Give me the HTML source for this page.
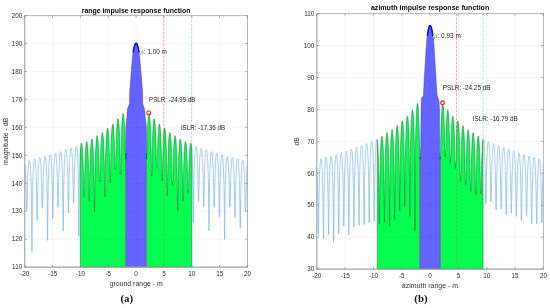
<!DOCTYPE html>
<html lang="en">
<head>
<meta charset="utf-8">
<title>Impulse response functions</title>
<style>
html,body{margin:0;padding:0;background:#fff;}
body{width:550px;height:308px;overflow:hidden;font-family:"Liberation Sans", sans-serif;}
svg{display:block;}
</style>
</head>
<body>
<svg width="550" height="308" viewBox="0 0 550 308">
<rect width="550" height="308" fill="#fff"/>
<g>
<path d="M52.59 15.6V267.1M80.44 15.6V267.1M108.28 15.6V267.1M136.12 15.6V267.1M163.97 15.6V267.1M191.81 15.6V267.1M219.66 15.6V267.1M24.75 43.54H247.5M24.75 71.49H247.5M24.75 99.43H247.5M24.75 127.38H247.5M24.75 155.32H247.5M24.75 183.27H247.5M24.75 211.21H247.5M24.75 239.16H247.5" stroke="#eeeeee" stroke-width="0.6" fill="none"/>
<path d="M163.8 15.6V267.1" stroke="#ff9c9c" stroke-width="0.95" stroke-dasharray="2.6 1.4" fill="none"/>
<path d="M191.6 15.6V267.1" stroke="#9cf29c" stroke-width="0.95" stroke-dasharray="2.6 1.4" fill="none"/>
<path d="M24.8 163.86L24.93 164.97L25.06 166.34L25.19 167.97L25.32 169.89L25.45 172.16L25.58 174.82L25.71 177.94L25.84 181.63L25.97 186.04L26.1 191.4L26.23 198.12L26.36 206.94L26.75 210.4L27.14 206.79L27.27 197.91L27.4 191.14L27.53 185.72L27.66 181.26L27.79 177.52L27.92 174.34L28.05 171.63L28.18 169.31L28.31 167.33L28.44 165.65L28.57 164.23L28.7 163.06L28.83 162.12L28.96 161.39L29.09 160.87L29.22 160.55L29.35 160.43L29.49 160.5L29.62 160.75L29.75 161.2L29.88 161.86L30.01 162.73L30.14 163.83L30.27 165.18L30.4 166.79L30.53 168.71L30.66 170.96L30.79 173.6L30.92 176.7L31.05 180.38L31.18 184.77L31.31 190.12L31.44 196.82L31.57 205.63L31.7 218.22L31.83 239.95L31.96 251.6L32.09 239.86L32.22 218.05L32.35 205.37L32.48 196.48L32.61 189.69L32.74 184.26L32.87 179.78L33 176.02L33.13 172.83L33.26 170.11L33.39 167.77L33.52 165.77L33.65 164.07L33.78 162.64L33.91 161.46L34.04 160.5L34.17 159.76L34.3 159.22L34.43 158.88L34.56 158.74L34.7 158.8L34.83 159.06L34.96 159.52L35.09 160.18L35.22 161.06L35.35 162.17L35.48 163.53L35.61 165.15L35.74 167.07L35.87 169.33L36 171.98L36.13 175.09L36.26 178.77L36.39 183.17L36.52 188.53L36.65 195.24L36.78 204.06L36.91 216.65L37.17 220.5L37.43 216.51L37.56 203.85L37.69 194.97L37.82 188.18L37.95 182.76L38.08 178.29L38.21 174.54L38.34 171.36L38.47 168.64L38.6 166.31L38.73 164.32L38.86 162.63L38.99 161.21L39.12 160.03L39.25 159.08L39.38 158.35L39.51 157.82L39.64 157.49L39.77 157.36L39.91 157.42L40.04 157.69L40.17 158.16L40.3 158.84L40.43 159.73L40.56 160.85L40.69 162.22L40.82 163.86L40.95 165.79L41.08 168.07L41.21 170.73L41.34 173.86L41.47 177.55L41.6 181.97L41.73 187.34L41.86 194.06L41.99 202.89L42.38 208.3L42.77 202.77L42.9 193.9L43.03 187.13L43.16 181.72L43.29 177.27L43.42 173.53L43.55 170.36L43.68 167.66L43.81 165.34L43.94 163.37L44.07 161.69L44.2 160.28L44.33 159.12L44.46 158.18L44.59 157.46L44.72 156.95L44.85 156.64L44.98 156.52L45.12 156.59L45.25 156.84L45.38 157.29L45.51 157.94L45.64 158.81L45.77 159.91L45.9 161.25L46.03 162.87L46.16 164.78L46.29 167.02L46.42 169.66L46.55 172.77L46.68 176.44L46.81 180.83L46.94 186.17L47.07 192.87L47.2 201.68L47.33 214.26L47.46 235.99L47.59 240.4L47.72 235.9L47.85 214.08L47.98 201.41L48.11 192.51L48.24 185.72L48.37 180.29L48.5 175.81L48.63 172.04L48.76 168.85L48.89 166.12L49.02 163.78L49.15 161.78L49.28 160.08L49.41 158.65L49.54 157.46L49.67 156.5L49.8 155.76L49.93 155.22L50.06 154.88L50.19 154.74L50.33 154.79L50.46 155.05L50.59 155.5L50.72 156.16L50.85 157.04L50.98 158.15L51.11 159.5L51.24 161.12L51.37 163.03L51.5 165.29L51.63 167.94L51.76 171.05L51.89 174.72L52.02 179.12L52.15 184.48L52.28 191.18L52.41 200L52.54 212.59L52.8 218.5L53.06 212.44L53.19 199.77L53.32 190.88L53.45 184.1L53.58 178.67L53.71 174.2L53.84 170.45L53.97 167.26L54.1 164.54L54.23 162.21L54.36 160.22L54.49 158.52L54.62 157.09L54.75 155.91L54.88 154.96L55.01 154.22L55.14 153.69L55.27 153.36L55.4 153.23L55.54 153.29L55.67 153.54L55.8 153.99L55.93 154.65L56.06 155.53L56.19 156.63L56.32 157.98L56.45 159.6L56.58 161.51L56.71 163.76L56.84 166.41L56.97 169.52L57.1 173.19L57.23 177.59L57.36 182.94L57.49 189.64L57.62 198.45L58.01 207.3L58.4 198.21L58.53 189.32L58.66 182.54L58.79 177.1L58.92 172.63L59.05 168.87L59.18 165.69L59.31 162.96L59.44 160.63L59.57 158.63L59.7 156.94L59.83 155.51L59.96 154.32L60.09 153.37L60.22 152.63L60.35 152.1L60.48 151.76L60.61 151.63L60.75 151.68L60.88 151.93L61.01 152.37L61.14 153.02L61.27 153.89L61.4 154.99L61.53 156.33L61.66 157.94L61.79 159.85L61.92 162.09L62.05 164.73L62.18 167.83L62.31 171.5L62.44 175.88L62.57 181.23L62.7 187.93L62.83 196.73L62.96 209.31L63.09 231.04L63.22 231.2L63.35 230.94L63.48 209.12L63.61 196.44L63.74 187.54L63.87 180.75L64 175.31L64.13 170.83L64.26 167.07L64.39 163.87L64.52 161.14L64.65 158.8L64.78 156.8L64.91 155.09L65.04 153.65L65.17 152.46L65.3 151.5L65.43 150.75L65.56 150.21L65.69 149.87L65.82 149.73L65.96 149.78L66.09 150.04L66.22 150.5L66.35 151.17L66.48 152.05L66.61 153.15L66.74 154.51L66.87 156.13L67 158.05L67.13 160.31L67.26 162.96L67.39 166.07L67.52 169.76L67.65 174.16L67.78 179.51L67.91 186.22L68.04 195.04L68.17 207.64L68.43 212.9L68.69 207.5L68.82 194.83L68.95 185.95L69.08 179.17L69.21 173.74L69.34 169.27L69.47 165.52L69.6 162.34L69.73 159.62L69.86 157.3L69.99 155.31L70.12 153.61L70.25 152.19L70.38 151.01L70.51 150.06L70.64 149.33L70.77 148.8L70.9 148.48L71.03 148.34L71.17 148.41L71.3 148.65L71.43 149.1L71.56 149.75L71.69 150.61L71.82 151.71L71.95 153.05L72.08 154.66L72.21 156.56L72.34 158.81L72.47 161.44L72.6 164.54L72.73 168.21L72.86 172.59L72.99 177.93L73.12 184.63L73.25 193.43L73.64 203.2L74.03 193.14L74.16 184.24L74.29 177.44L74.42 172L74.55 167.52L74.68 163.75L74.81 160.56L74.94 157.82L75.07 155.48L75.2 153.48L75.33 151.77L75.46 150.33L75.59 149.14L75.72 148.18L75.85 147.43L75.98 146.89L76.11 146.54L76.25 146.4L76.38 146.44L76.51 146.69L76.64 147.1L76.77 147.71L76.9 148.54L77.03 149.6L77.16 150.91L77.29 152.48L77.42 154.35L77.55 156.56L77.68 159.16L77.81 162.22L77.94 165.85L78.07 170.2L78.2 175.51L78.33 182.17L78.46 190.94L78.59 203.48L78.72 225.17L78.85 236.3L78.98 225.01L79.11 203.15L79.24 190.43L79.37 181.5L79.5 174.67L79.63 169.19L79.76 164.67L79.89 160.87L80.02 157.64L80.15 154.87L80.28 152.5L80.41 150.46L80.54 148.71" stroke="#6eade1" stroke-width="0.62" fill="none" stroke-linejoin="round"/>
<path d="M191.53 147.24L191.66 148.71L191.79 150.46L191.92 152.5L192.05 154.87L192.18 157.64L192.31 160.87L192.44 164.67L192.57 169.19L192.7 174.67L192.83 181.5L192.96 190.43L193.09 203.15L193.35 222.6L193.61 203.48L193.74 190.94L193.87 182.17L194 175.51L194.13 170.2L194.26 165.85L194.39 162.22L194.52 159.16L194.65 156.56L194.78 154.35L194.91 152.48L195.04 150.91L195.17 149.6L195.3 148.54L195.43 147.71L195.56 147.1L195.69 146.69L195.82 146.44L195.95 146.4L196.09 146.54L196.22 146.89L196.35 147.43L196.48 148.18L196.61 149.14L196.74 150.33L196.87 151.77L197 153.48L197.13 155.48L197.26 157.82L197.39 160.56L197.52 163.75L197.65 167.52L197.78 172L197.91 177.44L198.04 184.24L198.17 193.14L198.56 201.5L198.95 193.43L199.08 184.63L199.21 177.93L199.34 172.59L199.47 168.21L199.6 164.54L199.73 161.44L199.86 158.81L199.99 156.56L200.12 154.66L200.25 153.05L200.38 151.71L200.51 150.61L200.64 149.75L200.77 149.1L200.9 148.65L201.03 148.41L201.16 148.34L201.3 148.48L201.43 148.8L201.56 149.33L201.69 150.06L201.82 151.01L201.95 152.19L202.08 153.61L202.21 155.31L202.34 157.3L202.47 159.62L202.6 162.34L202.73 165.52L202.86 169.27L202.99 173.74L203.12 179.17L203.25 185.95L203.38 194.83L203.77 206.5L204.16 195.04L204.29 186.22L204.42 179.51L204.55 174.16L204.68 169.76L204.81 166.07L204.94 162.96L205.07 160.31L205.2 158.05L205.33 156.13L205.46 154.51L205.59 153.15L205.72 152.05L205.85 151.17L205.98 150.5L206.11 150.04L206.24 149.78L206.38 149.73L206.51 149.87L206.64 150.21L206.77 150.75L206.9 151.5L207.03 152.46L207.16 153.65L207.29 155.09L207.42 156.8L207.55 158.8L207.68 161.14L207.81 163.87L207.94 167.07L208.07 170.83L208.2 175.31L208.33 180.75L208.46 187.54L208.59 196.44L208.72 209.12L208.98 230.7L209.24 209.31L209.37 196.73L209.5 187.93L209.63 181.23L209.76 175.88L209.89 171.5L210.02 167.83L210.15 164.73L210.28 162.09L210.41 159.85L210.54 157.94L210.67 156.33L210.8 154.99L210.93 153.89L211.06 153.02L211.19 152.37L211.32 151.93L211.45 151.68L211.58 151.63L211.72 151.76L211.85 152.1L211.98 152.63L212.11 153.37L212.24 154.32L212.37 155.51L212.5 156.94L212.63 158.63L212.76 160.63L212.89 162.96L213.02 165.69L213.15 168.87L213.28 172.63L213.41 177.1L213.54 182.54L213.67 189.32L213.8 198.21L214.19 207.3L214.58 198.45L214.71 189.64L214.84 182.94L214.97 177.59L215.1 173.19L215.23 169.52L215.36 166.41L215.49 163.76L215.62 161.51L215.75 159.6L215.88 157.98L216.01 156.63L216.14 155.53L216.27 154.65L216.4 153.99L216.53 153.54L216.66 153.29L216.8 153.23L216.93 153.36L217.06 153.69L217.19 154.22L217.32 154.96L217.45 155.91L217.58 157.09L217.71 158.52L217.84 160.22L217.97 162.21L218.1 164.54L218.23 167.26L218.36 170.45L218.49 174.2L218.62 178.67L218.75 184.1L218.88 190.88L219.01 199.77L219.14 212.44L219.4 216.7L219.66 212.59L219.79 200L219.92 191.18L220.05 184.48L220.18 179.12L220.31 174.72L220.44 171.05L220.57 167.94L220.7 165.29L220.83 163.03L220.96 161.12L221.09 159.5L221.22 158.15L221.35 157.04L221.48 156.16L221.61 155.5L221.74 155.05L221.87 154.79L222 154.74L222.14 154.88L222.27 155.22L222.4 155.76L222.53 156.5L222.66 157.46L222.79 158.65L222.92 160.08L223.05 161.78L223.18 163.78L223.31 166.12L223.44 168.85L223.57 172.04L223.7 175.81L223.83 180.29L223.96 185.72L224.09 192.51L224.22 201.41L224.35 214.08L224.48 235.9L224.61 239.6L224.74 235.99L224.87 214.26L225 201.68L225.13 192.87L225.26 186.17L225.39 180.83L225.52 176.44L225.65 172.77L225.78 169.66L225.91 167.02L226.04 164.78L226.17 162.87L226.3 161.25L226.43 159.91L226.56 158.81L226.69 157.94L226.82 157.29L226.95 156.84L227.08 156.59L227.22 156.52L227.35 156.64L227.48 156.95L227.61 157.46L227.74 158.18L227.87 159.12L228 160.28L228.13 161.69L228.26 163.37L228.39 165.34L228.52 167.66L228.65 170.36L228.78 173.53L228.91 177.27L229.04 181.72L229.17 187.13L229.3 193.9L229.43 202.77L229.82 207.3L230.21 202.89L230.34 194.06L230.47 187.34L230.6 181.97L230.73 177.55L230.86 173.86L230.99 170.73L231.12 168.07L231.25 165.79L231.38 163.86L231.51 162.22L231.64 160.85L231.77 159.73L231.9 158.84L232.03 158.16L232.16 157.69L232.29 157.42L232.43 157.36L232.56 157.49L232.69 157.82L232.82 158.35L232.95 159.08L233.08 160.03L233.21 161.21L233.34 162.63L233.47 164.32L233.6 166.31L233.73 168.64L233.86 171.36L233.99 174.54L234.12 178.29L234.25 182.76L234.38 188.18L234.51 194.97L234.64 203.85L234.77 216.51L235.03 217.5L235.29 216.65L235.42 204.06L235.55 195.24L235.68 188.53L235.81 183.17L235.94 178.77L236.07 175.09L236.2 171.98L236.33 169.33L236.46 167.07L236.59 165.15L236.72 163.53L236.85 162.17L236.98 161.06L237.11 160.18L237.24 159.52L237.37 159.06L237.5 158.8L237.63 158.74L237.77 158.88L237.9 159.22L238.03 159.76L238.16 160.5L238.29 161.46L238.42 162.64L238.55 164.07L238.68 165.77L238.81 167.77L238.94 170.11L239.07 172.83L239.2 176.02L239.33 179.78L239.46 184.26L239.59 189.69L239.72 196.48L239.85 205.37L239.98 218.05L240.24 228.2L240.5 218.22L240.63 205.63L240.76 196.82L240.89 190.12L241.02 184.77L241.15 180.38L241.28 176.7L241.41 173.6L241.54 170.96L241.67 168.71L241.8 166.79L241.93 165.18L242.06 163.83L242.19 162.73L242.32 161.86L242.45 161.2L242.58 160.75L242.71 160.5L242.84 160.43L242.98 160.55L243.11 160.87L243.24 161.39L243.37 162.12L243.5 163.06L243.63 164.23L243.76 165.65L243.89 167.33L244.02 169.31L244.15 171.63L244.28 174.34L244.41 177.52L244.54 181.26L244.67 185.72L244.8 191.14L244.93 197.91L245.06 206.79L245.45 210.9L245.84 206.94L245.97 198.12L246.1 191.4L246.23 186.04L246.36 181.63L246.49 177.94L246.62 174.82L246.75 172.16L246.88 169.89L247.01 167.97L247.14 166.34L247.27 164.97L247.4 163.86" stroke="#6eade1" stroke-width="0.62" fill="none" stroke-linejoin="round"/>
<path d="M80.3 267.1L80.41 150.46L80.54 148.71L80.67 147.24L80.8 146.01L80.93 145.01L81.06 144.23L81.19 143.65L81.32 143.28L81.45 143.09L81.59 143.11L81.72 143.36L81.85 143.81L81.98 144.47L82.11 145.34L82.24 146.45L82.37 147.79L82.5 149.41L82.63 151.33L82.76 153.58L82.89 156.22L83.02 159.33L83.15 163.01L83.28 167.4L83.41 172.75L83.54 179.46L83.67 188.27L84.06 196.6L84.45 188.03L84.58 179.14L84.71 172.35L84.84 166.92L84.97 162.45L85.1 158.69L85.23 155.5L85.36 152.78L85.49 150.44L85.62 148.45L85.75 146.75L85.88 145.32L86.01 144.14L86.14 143.19L86.27 142.45L86.4 141.91L86.53 141.58L86.66 141.44L86.8 141.5L86.93 141.73L87.06 142.16L87.19 142.79L87.32 143.65L87.45 144.72L87.58 146.05L87.71 147.64L87.84 149.53L87.97 151.76L88.1 154.38L88.23 157.47L88.36 161.12L88.49 165.49L88.62 170.82L88.75 177.5L88.88 186.29L89.01 198.85L89.27 201.1L89.53 198.6L89.66 185.9L89.79 176.99L89.92 170.18L90.05 164.72L90.18 160.22L90.31 156.45L90.44 153.23L90.57 150.49L90.7 148.13L90.83 146.11L90.96 144.39L91.09 142.94L91.22 141.73L91.35 140.75L91.48 139.99L91.61 139.43L91.74 139.07L91.88 138.91L92.01 138.93L92.14 139.14L92.27 139.55L92.4 140.16L92.53 140.99L92.66 142.05L92.79 143.36L92.92 144.93L93.05 146.8L93.18 149.01L93.31 151.61L93.44 154.67L93.57 158.3L93.7 162.65L93.83 167.96L93.96 174.62L94.09 183.39L94.22 195.94L94.48 211.4L94.74 195.6L94.87 182.88L95 173.95L95.13 167.12L95.26 161.64L95.39 157.12L95.52 153.32L95.65 150.09L95.78 147.32L95.91 144.95L96.04 142.91L96.17 141.17L96.3 139.69L96.43 138.46L96.56 137.47L96.69 136.68L96.82 136.1L96.95 135.73L97.09 135.55L97.22 135.57L97.35 135.78L97.48 136.2L97.61 136.82L97.74 137.65L97.87 138.72L98 140.03L98.13 141.61L98.26 143.48L98.39 145.7L98.52 148.3L98.65 151.37L98.78 155.01L98.91 159.37L99.04 164.68L99.17 171.35L99.3 180.12L99.69 181.8L100.08 179.64L100.21 170.72L100.34 163.89L100.47 158.42L100.6 153.91L100.73 150.11L100.86 146.89L100.99 144.13L101.12 141.75L101.25 139.72L101.38 137.98L101.51 136.52L101.64 135.29L101.77 134.3L101.9 133.52L102.03 132.95L102.16 132.58L102.29 132.4L102.43 132.4L102.56 132.59L102.69 132.98L102.82 133.57L102.95 134.39L103.08 135.43L103.21 136.71L103.34 138.27L103.47 140.12L103.6 142.31L103.73 144.89L103.86 147.93L103.99 151.54L104.12 155.88L104.25 161.16L104.38 167.81L104.51 176.55L104.64 189.08L104.9 196.6L105.16 188.67L105.29 175.93L105.42 166.98L105.55 160.13L105.68 154.64L105.81 150.1L105.94 146.28L106.07 143.03L106.2 140.24L106.33 137.85L106.46 135.79L106.59 134.03L106.72 132.54L106.85 131.29L106.98 130.27L107.11 129.47L107.24 128.87L107.37 128.48L107.5 128.28L107.64 128.27L107.77 128.46L107.9 128.85L108.03 129.45L108.16 130.26L108.29 131.3L108.42 132.59L108.55 134.14L108.68 135.99L108.81 138.18L108.94 140.76L109.07 143.81L109.2 147.42L109.33 151.75L109.46 157.04L109.59 163.69L109.72 172.43L110.11 183L110.5 171.82L110.63 162.87L110.76 156.02L110.89 150.52L111.02 145.98L111.15 142.17L111.28 138.92L111.41 136.13L111.54 133.73L111.67 131.68L111.8 129.92L111.93 128.42L112.06 127.18L112.19 126.16L112.32 125.36L112.45 124.76L112.58 124.37L112.71 124.17L112.85 124.15L112.98 124.31L113.11 124.67L113.24 125.23L113.37 126.01L113.5 127.02L113.63 128.27L113.76 129.79L113.89 131.61L114.02 133.77L114.15 136.32L114.28 139.33L114.41 142.91L114.54 147.21L114.67 152.47L114.8 159.08L114.93 167.8L115.32 169.3L115.71 166.98L115.84 158L115.97 151.12L116.1 145.59L116.23 141.02L116.36 137.17L116.49 133.89L116.62 131.07L116.75 128.64L116.88 126.55L117.01 124.76L117.14 123.23L117.27 121.96L117.4 120.91L117.53 120.07L117.66 119.44L117.79 119.01L117.92 118.78L118.06 118.74L118.19 118.9L118.32 119.26L118.45 119.83L118.58 120.61L118.71 121.62L118.84 122.88L118.97 124.4L119.1 126.23L119.23 128.39L119.36 130.94L119.49 133.95L119.62 137.54L119.75 141.84L119.88 147.1L120.01 153.71L120.14 162.43L120.27 174.93L120.53 175L120.79 174.4L120.92 161.63L121.05 152.65L121.18 145.77L121.31 140.25L121.44 135.68L121.57 131.83L121.7 128.55L121.83 125.73L121.96 123.31L122.09 121.22L122.22 119.43L122.35 117.91L122.48 116.63L122.61 115.59L122.74 114.75L122.87 114.13L123 113.7L123.13 113.47L123.27 113.44L123.4 113.6L123.53 113.98L123.66 114.68L123.79 115.6L123.92 116.74L124.05 118.13L124.18 119.79L124.31 121.74L124.44 124.04L124.57 126.72L124.7 129.87L124.83 133.58L124.96 138.02L125.09 143.41L125.22 150.16L125.74 158.5L125.74 153L125.74 267.1Z" fill="#04fd50" stroke="#05401a" stroke-width="0.38" stroke-linejoin="round"/>
<path d="M146.46 267.1L146.46 153L146.46 158.5L146.98 150.16L147.11 143.41L147.24 138.02L147.37 133.58L147.5 129.87L147.63 126.72L147.76 124.04L147.89 121.74L148.02 119.79L148.15 118.13L148.28 116.74L148.41 115.6L148.54 114.68L148.67 113.98L148.8 113.6L148.93 113.44L149.06 113.47L149.2 113.7L149.33 114.13L149.46 114.75L149.59 115.59L149.72 116.63L149.85 117.91L149.98 119.43L150.11 121.22L150.24 123.31L150.37 125.73L150.5 128.55L150.63 131.83L150.76 135.68L150.89 140.25L151.02 145.77L151.15 152.65L151.28 161.63L151.41 174.4L151.67 176.1L151.93 174.93L152.06 162.43L152.19 153.71L152.32 147.1L152.45 141.84L152.58 137.54L152.71 133.95L152.84 130.94L152.97 128.39L153.1 126.23L153.23 124.4L153.36 122.88L153.49 121.62L153.62 120.61L153.75 119.83L153.88 119.26L154.01 118.9L154.14 118.74L154.28 118.78L154.41 119.01L154.54 119.44L154.67 120.07L154.8 120.91L154.93 121.96L155.06 123.23L155.19 124.76L155.32 126.55L155.45 128.64L155.58 131.07L155.71 133.89L155.84 137.17L155.97 141.02L156.1 145.59L156.23 151.12L156.36 158L156.49 166.98L156.88 168.2L157.27 167.8L157.4 159.08L157.53 152.47L157.66 147.21L157.79 142.91L157.92 139.33L158.05 136.32L158.18 133.77L158.31 131.61L158.44 129.79L158.57 128.27L158.7 127.02L158.83 126.01L158.96 125.23L159.09 124.67L159.22 124.31L159.35 124.15L159.48 124.17L159.62 124.37L159.75 124.76L159.88 125.36L160.01 126.16L160.14 127.18L160.27 128.42L160.4 129.92L160.53 131.68L160.66 133.73L160.79 136.13L160.92 138.92L161.05 142.17L161.18 145.98L161.31 150.52L161.44 156.02L161.57 162.87L161.7 171.82L162.09 180.7L162.48 172.43L162.61 163.69L162.74 157.04L162.87 151.75L163 147.42L163.13 143.81L163.26 140.76L163.39 138.18L163.52 135.99L163.65 134.14L163.78 132.59L163.91 131.3L164.04 130.26L164.17 129.45L164.3 128.85L164.43 128.46L164.56 128.27L164.69 128.28L164.83 128.48L164.96 128.87L165.09 129.47L165.22 130.27L165.35 131.29L165.48 132.54L165.61 134.03L165.74 135.79L165.87 137.85L166 140.24L166.13 143.03L166.26 146.28L166.39 150.1L166.52 154.64L166.65 160.13L166.78 166.98L166.91 175.93L167.04 188.67L167.3 195.6L167.56 189.08L167.69 176.55L167.82 167.81L167.95 161.16L168.08 155.88L168.21 151.54L168.34 147.93L168.47 144.89L168.6 142.31L168.73 140.12L168.86 138.27L168.99 136.71L169.12 135.43L169.25 134.39L169.38 133.57L169.51 132.98L169.64 132.59L169.77 132.4L169.91 132.4L170.04 132.58L170.17 132.95L170.3 133.52L170.43 134.3L170.56 135.29L170.69 136.52L170.82 137.98L170.95 139.72L171.08 141.75L171.21 144.13L171.34 146.89L171.47 150.11L171.6 153.91L171.73 158.42L171.86 163.89L171.99 170.72L172.12 179.64L172.51 185.2L172.9 180.12L173.03 171.35L173.16 164.68L173.29 159.37L173.42 155.01L173.55 151.37L173.68 148.3L173.81 145.7L173.94 143.48L174.07 141.61L174.2 140.03L174.33 138.72L174.46 137.65L174.59 136.82L174.72 136.2L174.85 135.78L174.98 135.57L175.11 135.55L175.25 135.73L175.38 136.1L175.51 136.68L175.64 137.47L175.77 138.46L175.9 139.69L176.03 141.17L176.16 142.91L176.29 144.95L176.42 147.32L176.55 150.09L176.68 153.32L176.81 157.12L176.94 161.64L177.07 167.12L177.2 173.95L177.33 182.88L177.46 195.6L177.72 210.9L177.98 195.94L178.11 183.39L178.24 174.62L178.37 167.96L178.5 162.65L178.63 158.3L178.76 154.67L178.89 151.61L179.02 149.01L179.15 146.8L179.28 144.93L179.41 143.36L179.54 142.05L179.67 140.99L179.8 140.16L179.93 139.55L180.06 139.14L180.19 138.93L180.32 138.91L180.46 139.07L180.59 139.43L180.72 139.99L180.85 140.75L180.98 141.73L181.11 142.94L181.24 144.39L181.37 146.11L181.5 148.13L181.63 150.49L181.76 153.23L181.89 156.45L182.02 160.22L182.15 164.72L182.28 170.18L182.41 176.99L182.54 185.9L182.67 198.6L182.93 201.1L183.19 198.85L183.32 186.29L183.45 177.5L183.58 170.82L183.71 165.49L183.84 161.12L183.97 157.47L184.1 154.38L184.23 151.76L184.36 149.53L184.49 147.64L184.62 146.05L184.75 144.72L184.88 143.65L185.01 142.79L185.14 142.16L185.27 141.73L185.4 141.5L185.53 141.44L185.67 141.58L185.8 141.91L185.93 142.45L186.06 143.19L186.19 144.14L186.32 145.32L186.45 146.75L186.58 148.45L186.71 150.44L186.84 152.78L186.97 155.5L187.1 158.69L187.23 162.45L187.36 166.92L187.49 172.35L187.62 179.14L187.75 188.03L188.14 194L188.53 188.27L188.66 179.46L188.79 172.75L188.92 167.4L189.05 163.01L189.18 159.33L189.31 156.22L189.44 153.58L189.57 151.33L189.7 149.41L189.83 147.79L189.96 146.45L190.09 145.34L190.22 144.47L190.35 143.81L190.48 143.36L190.61 143.11L190.75 143.09L190.88 143.28L191.01 143.65L191.14 144.23L191.27 145.01L191.4 146.01L191.53 147.24L191.66 148.71L191.79 150.46L191.8 267.1Z" fill="#04fd50" stroke="#05401a" stroke-width="0.38" stroke-linejoin="round"/>
<path d="M163.8 130V267.1" stroke="#b08a30" stroke-width="0.6" stroke-dasharray="2.6 1.4" fill="none" opacity="0.85"/>
<path d="M125.74 267.1L125.74 158.5L125.74 153L125.77 140L125.85 128L126.3 122L127 117L127.1 113L127.3 109.5L127.9 107.5L128.9 105.5L129.5 103.7L129.6 97L129.8 90L130.6 80L131.35 70L132.1 62L132.6 56L133.25 52L133.6 49.8L134.1 47.4L134.6 45.6L135.1 44.3L135.6 43.5L136.1 43.2L136.1 43.2L136.6 43.5L137.1 44.3L137.6 45.6L138.1 47.4L138.6 49.8L138.95 52L139.6 56L140.1 62L140.85 70L141.6 80L142.5 90L142.65 97L142.75 103.7L143.2 105.5L144 107.5L144.6 109.5L145 113L145.2 117L145.9 122L146.35 128L146.43 140L146.46 153L146.46 158.5L146.46 267.1Z" fill="#0000ff" fill-opacity="0.61" stroke="#4a4a9a" stroke-width="0.5" stroke-linejoin="round"/>
<path d="M108.28 215V267.1M163.97 215V267.1M80.3 239.16H125.74M146.46 239.16H191.8" stroke="#000" stroke-opacity="0.04" stroke-width="0.6" fill="none"/>
<path d="M125.74 160V267.1M146.46 160V267.1" stroke="#80889a" stroke-width="0.9" fill="none"/>
<path d="M133.25 52L133.6 49.8L134.1 47.4L134.6 45.6L135.1 44.3L135.6 43.5L136.1 43.2L136.1 43.2L136.6 43.5L137.1 44.3L137.6 45.6L138.1 47.4L138.6 49.8L138.95 52" fill="none" stroke="#0a0ad2" stroke-width="1.5" stroke-linejoin="round" stroke-linecap="round"/>
<circle cx="148.7" cy="112.9" r="1.9" fill="#fff" fill-opacity="0.5" stroke="#f01010" stroke-width="1.1"/>
<path d="M24.75 15.6H247.5V267.1" stroke="#b4b4b4" stroke-width="1" fill="none"/>
<path d="M24.75 15.6V267.1H247.5" stroke="#a0a0a0" stroke-width="1.1" fill="none"/>
<path d="M24.75 267.1v-2.2M24.75 15.6v2.2M52.59 267.1v-2.2M52.59 15.6v2.2M80.44 267.1v-2.2M80.44 15.6v2.2M108.28 267.1v-2.2M108.28 15.6v2.2M136.12 267.1v-2.2M136.12 15.6v2.2M163.97 267.1v-2.2M163.97 15.6v2.2M191.81 267.1v-2.2M191.81 15.6v2.2M219.66 267.1v-2.2M219.66 15.6v2.2M247.5 267.1v-2.2M247.5 15.6v2.2M24.75 15.6h2.2M247.5 15.6h-2.2M24.75 43.54h2.2M247.5 43.54h-2.2M24.75 71.49h2.2M247.5 71.49h-2.2M24.75 99.43h2.2M247.5 99.43h-2.2M24.75 127.38h2.2M247.5 127.38h-2.2M24.75 155.32h2.2M247.5 155.32h-2.2M24.75 183.27h2.2M247.5 183.27h-2.2M24.75 211.21h2.2M247.5 211.21h-2.2M24.75 239.16h2.2M247.5 239.16h-2.2M24.75 267.1h2.2M247.5 267.1h-2.2" stroke="#7a7a7a" stroke-width="0.6" fill="none"/>
<g font-family='"Liberation Sans", sans-serif' font-size="6.3" fill="#2a2a2a">
<text x="24.75" y="275.7" text-anchor="middle">-20</text>
<text x="52.59" y="275.7" text-anchor="middle">-15</text>
<text x="80.44" y="275.7" text-anchor="middle">-10</text>
<text x="108.28" y="275.7" text-anchor="middle">-5</text>
<text x="136.12" y="275.7" text-anchor="middle">0</text>
<text x="163.97" y="275.7" text-anchor="middle">5</text>
<text x="191.81" y="275.7" text-anchor="middle">10</text>
<text x="219.66" y="275.7" text-anchor="middle">15</text>
<text x="247.5" y="275.7" text-anchor="middle">20</text>
<text x="22.15" y="17.87" text-anchor="end">200</text>
<text x="22.15" y="45.81" text-anchor="end">190</text>
<text x="22.15" y="73.76" text-anchor="end">180</text>
<text x="22.15" y="101.7" text-anchor="end">170</text>
<text x="22.15" y="129.65" text-anchor="end">160</text>
<text x="22.15" y="157.59" text-anchor="end">150</text>
<text x="22.15" y="185.53" text-anchor="end">140</text>
<text x="22.15" y="213.48" text-anchor="end">130</text>
<text x="22.15" y="241.42" text-anchor="end">120</text>
<text x="22.15" y="269.37" text-anchor="end">110</text>
</g>
<text x="136.1" y="12.6" text-anchor="middle" font-family='"Liberation Sans", sans-serif' font-weight="bold" font-size="7.5" fill="#080808" textLength="108.8" lengthAdjust="spacingAndGlyphs">range impulse response function</text>
<text x="136.2" y="285.6" text-anchor="middle" font-family='"Liberation Sans", sans-serif' font-size="7.3" fill="#303030" textLength="53.2" lengthAdjust="spacingAndGlyphs">ground range - m</text>
<text transform="translate(7.6 141.35) rotate(-90)" text-anchor="middle" font-family='"Liberation Sans", sans-serif' font-size="7.3" fill="#303030" textLength="47.5" lengthAdjust="spacingAndGlyphs">magnitude - dB</text>
<text x="149.1" y="101.6" font-family='"Liberation Sans", sans-serif' font-size="6.8" fill="#1a1a1a" textLength="46.4" lengthAdjust="spacingAndGlyphs">PSLR: -24.99 dB</text>
<text x="180.9" y="129.5" font-family='"Liberation Sans", sans-serif' font-size="6.8" fill="#1a1a1a" textLength="44.2" lengthAdjust="spacingAndGlyphs">ISLR: -17.36 dB</text>
<text x="140.6" y="53.8" font-family='"Liberation Sans", sans-serif' font-size="6.8" fill="#222" textLength="26.3" lengthAdjust="spacingAndGlyphs"><tspan font-style="italic" fill="#777" font-size="6">ρ</tspan>: 1.00 m</text>
<text x="126.8" y="302" text-anchor="middle" font-family='"Liberation Serif", serif' font-weight="bold" font-size="10.9" fill="#111">(a)</text>
</g>
<g>
<path d="M345.12 13.6V269.1M373.45 13.6V269.1M401.77 13.6V269.1M430.1 13.6V269.1M458.42 13.6V269.1M486.75 13.6V269.1M515.08 13.6V269.1M316.8 45.54H543.4M316.8 77.48H543.4M316.8 109.41H543.4M316.8 141.35H543.4M316.8 173.29H543.4M316.8 205.23H543.4M316.8 237.16H543.4" stroke="#eeeeee" stroke-width="0.6" fill="none"/>
<path d="M456.5 13.6V269.1" stroke="#ff9c9c" stroke-width="0.95" stroke-dasharray="2.6 1.4" fill="none"/>
<path d="M483 13.6V269.1" stroke="#9cf29c" stroke-width="0.95" stroke-dasharray="2.6 1.4" fill="none"/>
<path d="M316.84 166.86L316.97 169.02L317.1 171.56L317.23 174.56L317.36 178.09L317.49 182.28L317.62 187.29L317.75 193.41L317.88 201.07L318.01 211.14L318.14 225.54L318.4 234.4L318.66 225.42L318.79 210.96L318.92 200.84L319.05 193.11L319.18 186.94L319.31 181.87L319.44 177.63L319.57 174.03L319.7 170.98L319.83 168.37L319.96 166.16L320.09 164.29L320.22 162.74L320.35 161.47L320.48 160.47L320.61 159.72L320.74 159.22L320.87 158.96L321.01 158.93L321.14 159.12L321.27 159.55L321.4 160.22L321.53 161.15L321.66 162.34L321.79 163.83L321.92 165.62L322.05 167.76L322.18 170.29L322.31 173.28L322.44 176.8L322.57 180.97L322.7 185.97L322.83 192.07L322.96 199.72L323.09 209.77L323.22 224.16L323.48 239L323.74 223.98L323.87 209.51L324 199.37L324.13 191.63L324.26 185.45L324.39 180.36L324.52 176.1L324.65 172.5L324.78 169.43L324.91 166.81L325.04 164.58L325.17 162.7L325.3 161.13L325.43 159.85L325.56 158.83L325.69 158.07L325.82 157.56L325.95 157.28L326.09 157.23L326.22 157.43L326.35 157.87L326.48 158.56L326.61 159.49L326.74 160.7L326.87 162.19L327 164L327.13 166.15L327.26 168.69L327.39 171.69L327.52 175.22L327.65 179.4L327.78 184.41L327.91 190.51L328.04 198.17L328.17 208.24L328.3 222.63L328.56 234.7L328.82 222.5L328.95 208.04L329.08 197.91L329.21 190.18L329.34 184.01L329.47 178.93L329.6 174.68L329.73 171.09L329.86 168.03L329.99 165.42L330.12 163.2L330.25 161.33L330.38 159.77L330.51 158.5L330.64 157.49L330.77 156.74L330.9 156.24L331.03 155.97L331.17 155.94L331.3 156.14L331.43 156.57L331.56 157.25L331.69 158.19L331.82 159.39L331.95 160.88L332.08 162.68L332.21 164.83L332.34 167.37L332.47 170.36L332.6 173.89L332.73 178.06L332.86 183.07L332.99 189.17L333.12 196.83L333.25 206.89L333.38 221.29L333.64 242.2L333.9 221.14L334.03 206.68L334.16 196.54L334.29 188.81L334.42 182.63L334.55 177.55L334.68 173.3L334.81 169.7L334.94 166.64L335.07 164.03L335.2 161.8L335.33 159.93L335.46 158.37L335.59 157.09L335.72 156.09L335.85 155.33L335.98 154.82L336.11 154.55L336.25 154.51L336.38 154.7L336.51 155.13L336.64 155.8L336.77 156.72L336.9 157.91L337.03 159.39L337.16 161.18L337.29 163.32L337.42 165.85L337.55 168.83L337.68 172.35L337.81 176.51L337.94 181.51L338.07 187.6L338.2 195.25L338.33 205.3L338.46 219.68L338.72 234.4L338.98 219.49L339.11 205.02L339.24 194.87L339.37 187.13L339.5 180.95L339.63 175.86L339.76 171.59L339.89 167.99L340.02 164.91L340.15 162.29L340.28 160.06L340.41 158.17L340.54 156.6L340.67 155.31L340.8 154.3L340.93 153.53L341.06 153.01L341.19 152.73L341.33 152.69L341.46 152.88L341.59 153.31L341.72 153.98L341.85 154.91L341.98 156.1L342.11 157.59L342.24 159.38L342.37 161.52L342.5 164.05L342.63 167.04L342.76 170.56L342.89 174.73L343.02 179.73L343.15 185.83L343.28 193.48L343.41 203.53L343.54 217.92L343.8 226.2L344.06 217.74L344.19 203.27L344.32 193.13L344.45 185.39L344.58 179.21L344.71 174.12L344.84 169.86L344.97 166.26L345.1 163.19L345.23 160.57L345.36 158.34L345.49 156.46L345.62 154.89L345.75 153.61L345.88 152.59L346.01 151.83L346.14 151.32L346.27 151.04L346.41 150.99L346.54 151.18L346.67 151.6L346.8 152.27L346.93 153.19L347.06 154.38L347.19 155.86L347.32 157.65L347.45 159.78L347.58 162.31L347.71 165.29L347.84 168.8L347.97 172.97L348.1 177.97L348.23 184.06L348.36 191.7L348.49 201.75L348.62 216.13L348.88 235.2L349.14 215.94L349.27 201.46L349.4 191.31L349.53 183.57L349.66 177.38L349.79 172.29L349.92 168.03L350.05 164.42L350.18 161.34L350.31 158.72L350.44 156.48L350.57 154.6L350.7 153.02L350.83 151.73L350.96 150.72L351.09 149.95L351.22 149.43L351.35 149.15L351.49 149.1L351.62 149.29L351.75 149.72L351.88 150.39L352.01 151.32L352.14 152.52L352.27 154L352.4 155.79L352.53 157.93L352.66 160.47L352.79 163.45L352.92 166.97L353.05 171.14L353.18 176.14L353.31 182.24L353.44 189.89L353.57 199.95L353.7 214.33L353.96 227L354.22 214.16L354.35 199.69L354.48 189.54L354.61 181.81L354.74 175.62L354.87 170.54L355 166.28L355.13 162.67L355.26 159.6L355.39 156.98L355.52 154.75L355.65 152.87L355.78 151.3L355.91 150.02L356.04 149L356.17 148.24L356.3 147.73L356.43 147.45L356.57 147.41L356.7 147.6L356.83 148.03L356.96 148.7L357.09 149.63L357.22 150.83L357.35 152.31L357.48 154.11L357.61 156.25L357.74 158.78L357.87 161.77L358 165.29L358.13 169.46L358.26 174.46L358.39 180.56L358.52 188.21L358.65 198.27L358.78 212.65L359.04 225.4L359.3 212.48L359.43 198.01L359.56 187.87L359.69 180.13L359.82 173.95L359.95 168.86L360.08 164.61L360.21 161L360.34 157.93L360.47 155.31L360.6 153.08L360.73 151.2L360.86 149.64L360.99 148.35L361.12 147.34L361.25 146.58L361.38 146.07L361.51 145.79L361.65 145.75L361.78 145.93L361.91 146.34L362.04 147L362.17 147.91L362.3 149.09L362.43 150.56L362.56 152.34L362.69 154.47L362.82 156.98L362.95 159.95L363.08 163.46L363.21 167.61L363.34 172.6L363.47 178.68L363.6 186.31L363.73 196.35L363.86 210.72L364.12 224.5L364.38 210.49L364.51 196L364.64 185.84L364.77 178.09L364.9 171.89L365.03 166.79L365.16 162.52L365.29 158.89L365.42 155.81L365.55 153.17L365.68 150.93L365.81 149.03L365.94 147.45L366.07 146.15L366.2 145.12L366.33 144.35L366.46 143.82L366.59 143.52L366.73 143.46L366.86 143.64L366.99 144.06L367.12 144.73L367.25 145.65L367.38 146.84L367.51 148.32L367.64 150.1L367.77 152.24L367.9 154.76L368.03 157.74L368.16 161.25L368.29 165.42L368.42 170.41L368.55 176.5L368.68 184.15L368.81 194.2L368.94 208.57L369.2 222.9L369.46 208.37L369.59 193.9L369.72 183.75L369.85 176L369.98 169.81L370.11 164.72L370.24 160.45L370.37 156.84L370.5 153.76L370.63 151.14L370.76 148.9L370.89 147.01L371.02 145.44L371.15 144.15L371.28 143.13L371.41 142.36L371.54 141.84L371.67 141.55L371.81 141.5L371.94 141.69L372.07 142.1L372.2 142.76L372.33 143.66L372.46 144.84L372.59 146.3L372.72 148.07L372.85 150.2L372.98 152.71L373.11 155.67L373.24 159.17L373.37 163.32L373.5 168.3L373.63 174.38L373.76 182.01L373.89 192.04L374.02 206.41L374.28 221.3L374.54 206.15L374.67 191.66L374.8 181.5L374.93 173.74L375.06 167.53L375.19 162.43L375.32 158.15L375.45 154.52L375.58 151.43L375.71 148.79L375.84 146.54L375.97 144.64L376.1 143.05L376.23 141.75L376.36 140.71L376.49 139.93L376.62 139.4L376.75 139.1L376.89 139.03L377.02 139.21L377.15 139.61L377.28 140.25L377.41 141.14" stroke="#6eade1" stroke-width="0.62" fill="none" stroke-linejoin="round"/>
<path d="M482.79 141.14L482.92 140.25L483.05 139.61L483.18 139.21L483.31 139.03L483.45 139.1L483.58 139.4L483.71 139.93L483.84 140.71L483.97 141.75L484.1 143.05L484.23 144.64L484.36 146.54L484.49 148.79L484.62 151.43L484.75 154.52L484.88 158.15L485.01 162.43L485.14 167.53L485.27 173.74L485.4 181.5L485.53 191.66L485.92 203.6L486.31 192.04L486.44 182.01L486.57 174.38L486.7 168.3L486.83 163.32L486.96 159.17L487.09 155.67L487.22 152.71L487.35 150.2L487.48 148.07L487.61 146.3L487.74 144.84L487.87 143.66L488 142.76L488.13 142.1L488.26 141.69L488.39 141.5L488.53 141.55L488.66 141.84L488.79 142.36L488.92 143.13L489.05 144.15L489.18 145.44L489.31 147.01L489.44 148.9L489.57 151.14L489.7 153.76L489.83 156.84L489.96 160.45L490.09 164.72L490.22 169.81L490.35 176L490.48 183.75L490.61 193.9L491 202L491.39 194.2L491.52 184.15L491.65 176.5L491.78 170.41L491.91 165.42L492.04 161.25L492.17 157.74L492.3 154.76L492.43 152.24L492.56 150.1L492.69 148.32L492.82 146.84L492.95 145.65L493.08 144.73L493.21 144.06L493.34 143.64L493.47 143.46L493.61 143.52L493.74 143.82L493.87 144.35L494 145.12L494.13 146.15L494.26 147.45L494.39 149.03L494.52 150.93L494.65 153.17L494.78 155.81L494.91 158.89L495.04 162.52L495.17 166.79L495.3 171.89L495.43 178.09L495.56 185.84L495.69 196L496.08 210.1L496.47 196.35L496.6 186.31L496.73 178.68L496.86 172.6L496.99 167.61L497.12 163.46L497.25 159.95L497.38 156.98L497.51 154.47L497.64 152.34L497.77 150.56L497.9 149.09L498.03 147.91L498.16 147L498.29 146.34L498.42 145.93L498.55 145.75L498.69 145.79L498.82 146.07L498.95 146.58L499.08 147.34L499.21 148.35L499.34 149.64L499.47 151.2L499.6 153.08L499.73 155.31L499.86 157.93L499.99 161L500.12 164.61L500.25 168.86L500.38 173.95L500.51 180.13L500.64 187.87L500.77 198.01L501.16 209L501.55 198.27L501.68 188.21L501.81 180.56L501.94 174.46L502.07 169.46L502.2 165.29L502.33 161.77L502.46 158.78L502.59 156.25L502.72 154.11L502.85 152.31L502.98 150.83L503.11 149.63L503.24 148.7L503.37 148.03L503.5 147.6L503.63 147.41L503.77 147.45L503.9 147.73L504.03 148.24L504.16 149L504.29 150.02L504.42 151.3L504.55 152.87L504.68 154.75L504.81 156.98L504.94 159.6L505.07 162.67L505.2 166.28L505.33 170.54L505.46 175.62L505.59 181.81L505.72 189.54L505.85 199.69L505.98 214.16L506.24 214.4L506.5 214.33L506.63 199.95L506.76 189.89L506.89 182.24L507.02 176.14L507.15 171.14L507.28 166.97L507.41 163.45L507.54 160.47L507.67 157.93L507.8 155.79L507.93 154L508.06 152.52L508.19 151.32L508.32 150.39L508.45 149.72L508.58 149.29L508.71 149.1L508.85 149.15L508.98 149.43L509.11 149.95L509.24 150.72L509.37 151.73L509.5 153.02L509.63 154.6L509.76 156.48L509.89 158.72L510.02 161.34L510.15 164.42L510.28 168.03L510.41 172.29L510.54 177.38L510.67 183.57L510.8 191.31L510.93 201.46L511.32 213.1L511.71 201.75L511.84 191.7L511.97 184.06L512.1 177.97L512.23 172.97L512.36 168.8L512.49 165.29L512.62 162.31L512.75 159.78L512.88 157.65L513.01 155.86L513.14 154.38L513.27 153.19L513.4 152.27L513.53 151.6L513.66 151.18L513.79 150.99L513.93 151.04L514.06 151.32L514.19 151.83L514.32 152.59L514.45 153.61L514.58 154.89L514.71 156.46L514.84 158.34L514.97 160.57L515.1 163.19L515.23 166.26L515.36 169.86L515.49 174.12L515.62 179.21L515.75 185.39L515.88 193.13L516.01 203.27L516.4 216.4L516.79 203.53L516.92 193.48L517.05 185.83L517.18 179.73L517.31 174.73L517.44 170.56L517.57 167.04L517.7 164.05L517.83 161.52L517.96 159.38L518.09 157.59L518.22 156.1L518.35 154.91L518.48 153.98L518.61 153.31L518.74 152.88L518.87 152.69L519.01 152.73L519.14 153.01L519.27 153.53L519.4 154.3L519.53 155.31L519.66 156.6L519.79 158.17L519.92 160.06L520.05 162.29L520.18 164.91L520.31 167.99L520.44 171.59L520.57 175.86L520.7 180.95L520.83 187.13L520.96 194.87L521.09 205.02L521.22 219.49L521.48 221L521.74 219.68L521.87 205.3L522 195.25L522.13 187.6L522.26 181.51L522.39 176.51L522.52 172.35L522.65 168.83L522.78 165.85L522.91 163.32L523.04 161.18L523.17 159.39L523.3 157.91L523.43 156.72L523.56 155.8L523.69 155.13L523.82 154.7L523.95 154.51L524.09 154.55L524.22 154.82L524.35 155.33L524.48 156.09L524.61 157.09L524.74 158.37L524.87 159.93L525 161.8L525.13 164.03L525.26 166.64L525.39 169.7L525.52 173.3L525.65 177.55L525.78 182.63L525.91 188.81L526.04 196.54L526.17 206.68L526.56 215.5L526.95 206.89L527.08 196.83L527.21 189.17L527.34 183.07L527.47 178.06L527.6 173.89L527.73 170.36L527.86 167.37L527.99 164.83L528.12 162.68L528.25 160.88L528.38 159.39L528.51 158.19L528.64 157.25L528.77 156.57L528.9 156.14L529.03 155.94L529.17 155.97L529.3 156.24L529.43 156.74L529.56 157.49L529.69 158.5L529.82 159.77L529.95 161.33L530.08 163.2L530.21 165.42L530.34 168.03L530.47 171.09L530.6 174.68L530.73 178.93L530.86 184.01L530.99 190.18L531.12 197.91L531.25 208.04L531.38 222.5L531.64 223.7L531.9 222.63L532.03 208.24L532.16 198.17L532.29 190.51L532.42 184.41L532.55 179.4L532.68 175.22L532.81 171.69L532.94 168.69L533.07 166.15L533.2 164L533.33 162.19L533.46 160.7L533.59 159.49L533.72 158.56L533.85 157.87L533.98 157.43L534.11 157.23L534.25 157.28L534.38 157.56L534.51 158.07L534.64 158.83L534.77 159.85L534.9 161.13L535.03 162.7L535.16 164.58L535.29 166.81L535.42 169.43L535.55 172.5L535.68 176.1L535.81 180.36L535.94 185.45L536.07 191.63L536.2 199.37L536.33 209.51L536.72 223.7L537.11 209.77L537.24 199.72L537.37 192.07L537.5 185.97L537.63 180.97L537.76 176.8L537.89 173.28L538.02 170.29L538.15 167.76L538.28 165.62L538.41 163.83L538.54 162.34L538.67 161.15L538.8 160.22L538.93 159.55L539.06 159.12L539.19 158.93L539.33 158.96L539.46 159.22L539.59 159.72L539.72 160.47L539.85 161.47L539.98 162.74L540.11 164.29L540.24 166.16L540.37 168.37L540.5 170.98L540.63 174.03L540.76 177.63L540.89 181.87L541.02 186.94L541.15 193.11L541.28 200.84L541.41 210.96L541.8 222.9L542.19 211.14L542.32 201.07L542.45 193.41L542.58 187.29L542.71 182.28L542.84 178.09L542.97 174.56L543.1 171.56L543.23 169.02L543.36 166.86" stroke="#6eade1" stroke-width="0.62" fill="none" stroke-linejoin="round"/>
<path d="M377.2 269.1L377.28 140.25L377.41 141.14L377.54 142.29L377.67 143.74L377.8 145.5L377.93 147.6L378.06 150.1L378.19 153.05L378.32 156.53L378.45 160.67L378.58 165.63L378.71 171.69L378.84 179.3L378.97 189.32L379.1 203.67L379.36 223.9L379.62 203.35L379.75 188.85L379.88 178.67L380.01 170.89L380.14 164.67L380.27 159.55L380.4 155.26L380.53 151.61L380.66 148.51L380.79 145.85L380.92 143.59L381.05 141.67L381.18 140.06L381.31 138.74L381.44 137.69L381.57 136.9L381.7 136.34L381.83 136.03L381.97 135.95L382.1 136.1L382.23 136.49L382.36 137.12L382.49 138L382.62 139.15L382.75 140.59L382.88 142.35L383.01 144.45L383.14 146.94L383.27 149.88L383.4 153.35L383.53 157.48L383.66 162.44L383.79 168.5L383.92 176.1L384.05 186.12L384.18 200.46L384.44 223.1L384.7 200.11L384.83 185.6L384.96 175.41L385.09 167.64L385.22 161.41L385.35 156.28L385.48 151.98L385.61 148.33L385.74 145.22L385.87 142.55L386 140.28L386.13 138.36L386.26 136.75L386.39 135.42L386.52 134.37L386.65 133.56L386.78 133.01L386.91 132.69L387.05 132.6L387.18 132.76L387.31 133.15L387.44 133.79L387.57 134.68L387.7 135.84L387.83 137.28L387.96 139.04L388.09 141.15L388.22 143.65L388.35 146.6L388.48 150.08L388.61 154.22L388.74 159.18L388.87 165.24L389 172.85L389.13 182.87L389.26 197.22L389.39 222.02L389.52 226.3L389.65 221.86L389.78 196.91L389.91 182.4L390.04 172.22L390.17 164.45L390.3 158.23L390.43 153.11L390.56 148.81L390.69 145.17L390.82 142.06L390.95 139.41L391.08 137.14L391.21 135.23L391.34 133.62L391.47 132.3L391.6 131.25L391.73 130.46L391.86 129.91L391.99 129.59L392.13 129.51L392.26 129.65L392.39 130.02L392.52 130.63L392.65 131.51L392.78 132.64L392.91 134.07L393.04 135.81L393.17 137.89L393.3 140.37L393.43 143.3L393.56 146.76L393.69 150.88L393.82 155.82L393.95 161.86L394.08 169.46L394.21 179.46L394.34 193.78L394.47 218.56L394.6 219.8L394.73 218.36L394.86 193.38L394.99 178.86L395.12 168.66L395.25 160.87L395.38 154.63L395.51 149.48L395.64 145.17L395.77 141.51L395.9 138.38L396.03 135.7L396.16 133.42L396.29 131.48L396.42 129.86L396.55 128.52L396.68 127.45L396.81 126.63L396.94 126.06L397.07 125.72L397.21 125.62L397.34 125.73L397.47 126.08L397.6 126.67L397.73 127.52L397.86 128.63L397.99 130.03L398.12 131.74L398.25 133.8L398.38 136.26L398.51 139.16L398.64 142.6L398.77 146.69L398.9 151.6L399.03 157.62L399.16 165.19L399.29 175.16L399.42 189.46L399.68 210.9L399.94 188.96L400.07 174.41L400.2 164.19L400.33 156.37L400.46 150.1L400.59 144.93L400.72 140.59L400.85 136.91L400.98 133.75L401.11 131.05L401.24 128.74L401.37 126.78L401.5 125.13L401.63 123.76L401.76 122.67L401.89 121.83L402.02 121.23L402.15 120.87L402.29 120.74L402.42 120.86L402.55 121.21L402.68 121.81L402.81 122.67L402.94 123.79L403.07 125.19L403.2 126.92L403.33 128.98L403.46 131.44L403.59 134.35L403.72 137.8L403.85 141.89L403.98 146.82L404.11 152.84L404.24 160.42L404.37 170.4L404.5 184.71L404.76 206.9L405.02 184.24L405.15 169.69L405.28 159.47L405.41 151.66L405.54 145.41L405.67 140.25L405.8 135.91L405.93 132.23L406.06 129.09L406.19 126.39L406.32 124.09L406.45 122.13L406.58 120.49L406.71 119.13L406.84 118.05L406.97 117.21L407.1 116.62L407.23 116.27L407.37 116.15L407.5 116.27L407.63 116.57L407.76 117.12L407.89 117.93L408.02 119L408.15 120.36L408.28 122.03L408.41 124.04L408.54 126.45L408.67 129.31L408.8 132.71L408.93 136.76L409.06 141.63L409.19 147.6L409.32 155.13L409.45 165.06L409.58 179.32L409.71 204.03L409.84 216.6L409.97 203.7L410.1 178.65L410.23 164.06L410.36 153.79L410.49 145.93L410.62 139.62L410.75 134.41L410.88 130.03L411.01 126.3L411.14 123.1L411.27 120.36L411.4 118.01L411.53 116L411.66 114.31L411.79 112.9L411.92 111.76L412.05 110.88L412.18 110.24L412.31 109.84L412.45 109.67L412.58 109.75L412.71 110.06L412.84 110.61L412.97 111.42L413.1 112.5L413.23 113.86L413.36 115.54L413.49 117.56L413.62 119.98L413.75 122.84L413.88 126.24L414.01 130.3L414.14 135.18L414.27 141.16L414.4 148.69L414.53 158.63L414.66 172.89L414.79 197.61L414.92 231.2L415.05 197.29L415.18 172.25L415.31 157.66L415.44 147.4L415.57 139.54L415.7 133.24L415.83 128.04L415.96 123.66L416.09 119.94L416.22 116.75L416.35 114.01L416.48 111.66L416.61 109.66L416.74 107.98L416.87 106.58L417 105.44L417.13 104.57L417.26 103.93L417.39 103.54L417.53 103.51L417.66 103.71L417.79 104.16L417.92 104.85L418.05 105.8L418.18 107.01L418.31 108.51L418.44 110.33L418.57 112.49L418.7 115.04L418.83 118.04L418.96 121.58L419.09 125.77L419.22 130.79L419.35 136.9L419.48 144.57L419.61 154.64L420 159L420 157L420 269.1Z" fill="#04fd50" stroke="#05401a" stroke-width="0.38" stroke-linejoin="round"/>
<path d="M440.2 269.1L440.2 157L440.2 159L440.59 154.64L440.72 144.57L440.85 136.9L440.98 130.79L441.11 125.77L441.24 121.58L441.37 118.04L441.5 115.04L441.63 112.49L441.76 110.33L441.89 108.51L442.02 107.01L442.15 105.8L442.28 104.85L442.41 104.16L442.54 103.71L442.67 103.51L442.81 103.54L442.94 103.93L443.07 104.57L443.2 105.44L443.33 106.58L443.46 107.98L443.59 109.66L443.72 111.66L443.85 114.01L443.98 116.75L444.11 119.94L444.24 123.66L444.37 128.04L444.5 133.24L444.63 139.54L444.76 147.4L445.28 157.3L445.8 148.69L445.93 141.16L446.06 135.18L446.19 130.3L446.32 126.24L446.45 122.84L446.58 119.98L446.71 117.56L446.84 115.54L446.97 113.86L447.1 112.5L447.23 111.42L447.36 110.61L447.49 110.06L447.62 109.75L447.75 109.67L447.89 109.84L448.02 110.24L448.15 110.88L448.28 111.76L448.41 112.9L448.54 114.31L448.67 116L448.8 118.01L448.93 120.36L449.06 123.1L449.19 126.3L449.32 130.03L449.45 134.41L449.58 139.62L449.71 145.93L449.84 153.79L450.36 163L450.88 155.13L451.01 147.6L451.14 141.63L451.27 136.76L451.4 132.71L451.53 129.31L451.66 126.45L451.79 124.04L451.92 122.03L452.05 120.36L452.18 119L452.31 117.93L452.44 117.12L452.57 116.57L452.7 116.27L452.83 116.15L452.97 116.27L453.1 116.62L453.23 117.21L453.36 118.05L453.49 119.13L453.62 120.49L453.75 122.13L453.88 124.09L454.01 126.39L454.14 129.09L454.27 132.23L454.4 135.91L454.53 140.25L454.66 145.41L454.79 151.66L454.92 159.47L455.44 168.5L455.96 160.42L456.09 152.84L456.22 146.82L456.35 141.89L456.48 137.8L456.61 134.35L456.74 131.44L456.87 128.98L457 126.92L457.13 125.19L457.26 123.79L457.39 122.67L457.52 121.81L457.65 121.21L457.78 120.86L457.91 120.74L458.05 120.87L458.18 121.23L458.31 121.83L458.44 122.67L458.57 123.76L458.7 125.13L458.83 126.78L458.96 128.74L459.09 131.05L459.22 133.75L459.35 136.91L459.48 140.59L459.61 144.93L459.74 150.1L459.87 156.37L460 164.19L460.13 174.41L460.52 181.5L460.91 175.16L461.04 165.19L461.17 157.62L461.3 151.6L461.43 146.69L461.56 142.6L461.69 139.16L461.82 136.26L461.95 133.8L462.08 131.74L462.21 130.03L462.34 128.63L462.47 127.52L462.6 126.67L462.73 126.08L462.86 125.73L462.99 125.62L463.13 125.72L463.26 126.06L463.39 126.63L463.52 127.45L463.65 128.52L463.78 129.86L463.91 131.48L464.04 133.42L464.17 135.7L464.3 138.38L464.43 141.51L464.56 145.17L464.69 149.48L464.82 154.63L464.95 160.87L465.08 168.66L465.21 178.86L465.6 185.3L465.99 179.46L466.12 169.46L466.25 161.86L466.38 155.82L466.51 150.88L466.64 146.76L466.77 143.3L466.9 140.37L467.03 137.89L467.16 135.81L467.29 134.07L467.42 132.64L467.55 131.51L467.68 130.63L467.81 130.02L467.94 129.65L468.07 129.51L468.21 129.59L468.34 129.91L468.47 130.46L468.6 131.25L468.73 132.3L468.86 133.62L468.99 135.23L469.12 137.14L469.25 139.41L469.38 142.06L469.51 145.17L469.64 148.81L469.77 153.11L469.9 158.23L470.03 164.45L470.16 172.22L470.29 182.4L470.68 191.6L471.07 182.87L471.2 172.85L471.33 165.24L471.46 159.18L471.59 154.22L471.72 150.08L471.85 146.6L471.98 143.65L472.11 141.15L472.24 139.04L472.37 137.28L472.5 135.84L472.63 134.68L472.76 133.79L472.89 133.15L473.02 132.76L473.15 132.6L473.29 132.69L473.42 133.01L473.55 133.56L473.68 134.37L473.81 135.42L473.94 136.75L474.07 138.36L474.2 140.28L474.33 142.55L474.46 145.22L474.59 148.33L474.72 151.98L474.85 156.28L474.98 161.41L475.11 167.64L475.24 175.41L475.37 185.6L475.76 195.4L476.15 186.12L476.28 176.1L476.41 168.5L476.54 162.44L476.67 157.48L476.8 153.35L476.93 149.88L477.06 146.94L477.19 144.45L477.32 142.35L477.45 140.59L477.58 139.15L477.71 138L477.84 137.12L477.97 136.49L478.1 136.1L478.23 135.95L478.37 136.03L478.5 136.34L478.63 136.9L478.76 137.69L478.89 138.74L479.02 140.06L479.15 141.67L479.28 143.59L479.41 145.85L479.54 148.51L479.67 151.61L479.8 155.26L479.93 159.55L480.06 164.67L480.19 170.89L480.32 178.67L480.45 188.85L480.84 194L481.23 189.32L481.36 179.3L481.49 171.69L481.62 165.63L481.75 160.67L481.88 156.53L482.01 153.05L482.14 150.1L482.27 147.6L482.4 145.5L482.53 143.74L482.66 142.29L482.79 141.14L482.92 140.25L483 269.1Z" fill="#04fd50" stroke="#05401a" stroke-width="0.38" stroke-linejoin="round"/>
<path d="M456.5 125V269.1" stroke="#b08a30" stroke-width="0.6" stroke-dasharray="2.6 1.4" fill="none" opacity="0.85"/>
<path d="M420 269.1L420 159L420 157L420.4 152L420.7 145L420.9 125L421.1 110L421.3 100L421.6 98L422.5 97L423.4 95.5L423.6 92L424.2 80L424.9 68L425.4 60L426 50L426.7 40L427.45 35.3L427.8 32.9L428.25 30.2L428.7 28.2L429.15 26.8L429.65 25.9L430.1 25.6L430.1 25.6L430.55 25.9L431.05 26.8L431.5 28.2L431.95 30.2L432.4 32.9L432.75 35.3L433.6 40L434.3 50L434.9 60L435.4 68L436.1 80L436.8 92L437.3 95.5L438.1 98L439 101L439.3 106L439.55 112L439.7 125L439.8 150L440.2 157L440.2 159L440.2 269.1Z" fill="#0000ff" fill-opacity="0.61" stroke="#4a4a9a" stroke-width="0.5" stroke-linejoin="round"/>
<path d="M401.77 235V269.1M458.42 235V269.1M377.2 237.16H420M440.2 237.16H483" stroke="#000" stroke-opacity="0.04" stroke-width="0.6" fill="none"/>
<path d="M420 160V269.1M440.2 160V269.1" stroke="#80889a" stroke-width="0.9" fill="none"/>
<path d="M427.45 35.3L427.8 32.9L428.25 30.2L428.7 28.2L429.15 26.8L429.65 25.9L430.1 25.6L430.1 25.6L430.55 25.9L431.05 26.8L431.5 28.2L431.95 30.2L432.4 32.9L432.75 35.3" fill="none" stroke="#0a0ad2" stroke-width="1.5" stroke-linejoin="round" stroke-linecap="round"/>
<circle cx="442.5" cy="102.8" r="1.9" fill="#fff" fill-opacity="0.5" stroke="#f01010" stroke-width="1.1"/>
<path d="M316.8 13.6H543.4V269.1" stroke="#b4b4b4" stroke-width="1" fill="none"/>
<path d="M316.8 13.6V269.1H543.4" stroke="#a0a0a0" stroke-width="1.1" fill="none"/>
<path d="M316.8 269.1v-2.2M316.8 13.6v2.2M345.12 269.1v-2.2M345.12 13.6v2.2M373.45 269.1v-2.2M373.45 13.6v2.2M401.77 269.1v-2.2M401.77 13.6v2.2M430.1 269.1v-2.2M430.1 13.6v2.2M458.42 269.1v-2.2M458.42 13.6v2.2M486.75 269.1v-2.2M486.75 13.6v2.2M515.08 269.1v-2.2M515.08 13.6v2.2M543.4 269.1v-2.2M543.4 13.6v2.2M316.8 13.6h2.2M543.4 13.6h-2.2M316.8 45.54h2.2M543.4 45.54h-2.2M316.8 77.48h2.2M543.4 77.48h-2.2M316.8 109.41h2.2M543.4 109.41h-2.2M316.8 141.35h2.2M543.4 141.35h-2.2M316.8 173.29h2.2M543.4 173.29h-2.2M316.8 205.23h2.2M543.4 205.23h-2.2M316.8 237.16h2.2M543.4 237.16h-2.2M316.8 269.1h2.2M543.4 269.1h-2.2" stroke="#7a7a7a" stroke-width="0.6" fill="none"/>
<g font-family='"Liberation Sans", sans-serif' font-size="6.3" fill="#2a2a2a">
<text x="316.8" y="277.7" text-anchor="middle">-20</text>
<text x="345.12" y="277.7" text-anchor="middle">-15</text>
<text x="373.45" y="277.7" text-anchor="middle">-10</text>
<text x="401.77" y="277.7" text-anchor="middle">-5</text>
<text x="430.1" y="277.7" text-anchor="middle">0</text>
<text x="458.42" y="277.7" text-anchor="middle">5</text>
<text x="486.75" y="277.7" text-anchor="middle">10</text>
<text x="515.08" y="277.7" text-anchor="middle">15</text>
<text x="543.4" y="277.7" text-anchor="middle">20</text>
<text x="314.2" y="15.87" text-anchor="end">110</text>
<text x="314.2" y="47.81" text-anchor="end">100</text>
<text x="314.2" y="79.74" text-anchor="end">90</text>
<text x="314.2" y="111.68" text-anchor="end">80</text>
<text x="314.2" y="143.62" text-anchor="end">70</text>
<text x="314.2" y="175.56" text-anchor="end">60</text>
<text x="314.2" y="207.49" text-anchor="end">50</text>
<text x="314.2" y="239.43" text-anchor="end">40</text>
<text x="314.2" y="271.37" text-anchor="end">30</text>
</g>
<text x="430.1" y="10.4" text-anchor="middle" font-family='"Liberation Sans", sans-serif' font-weight="bold" font-size="7.5" fill="#080808" textLength="118.3" lengthAdjust="spacingAndGlyphs">azimuth impulse response function</text>
<text x="430" y="287.6" text-anchor="middle" font-family='"Liberation Sans", sans-serif' font-size="7.3" fill="#303030" textLength="56.3" lengthAdjust="spacingAndGlyphs">azimuth range - m</text>
<text transform="translate(299.4 141.35) rotate(-90)" text-anchor="middle" font-family='"Liberation Sans", sans-serif' font-size="7.3" fill="#303030" textLength="8.2" lengthAdjust="spacingAndGlyphs">dB</text>
<text x="442.7" y="89.7" font-family='"Liberation Sans", sans-serif' font-size="6.9" fill="#1a1a1a" textLength="47.8" lengthAdjust="spacingAndGlyphs">PSLR: -24.25 dB</text>
<text x="472.7" y="121.1" font-family='"Liberation Sans", sans-serif' font-size="6.9" fill="#1a1a1a" textLength="45.1" lengthAdjust="spacingAndGlyphs">ISLR: -16.79 dB</text>
<text x="434.2" y="37.8" font-family='"Liberation Sans", sans-serif' font-size="6.9" fill="#222" textLength="26.7" lengthAdjust="spacingAndGlyphs"><tspan font-style="italic" fill="#777" font-size="6">ρ</tspan>: 0.93 m</text>
<text x="421" y="302" text-anchor="middle" font-family='"Liberation Serif", serif' font-weight="bold" font-size="10.9" fill="#111">(b)</text>
</g>
</svg>
</body>
</html>
